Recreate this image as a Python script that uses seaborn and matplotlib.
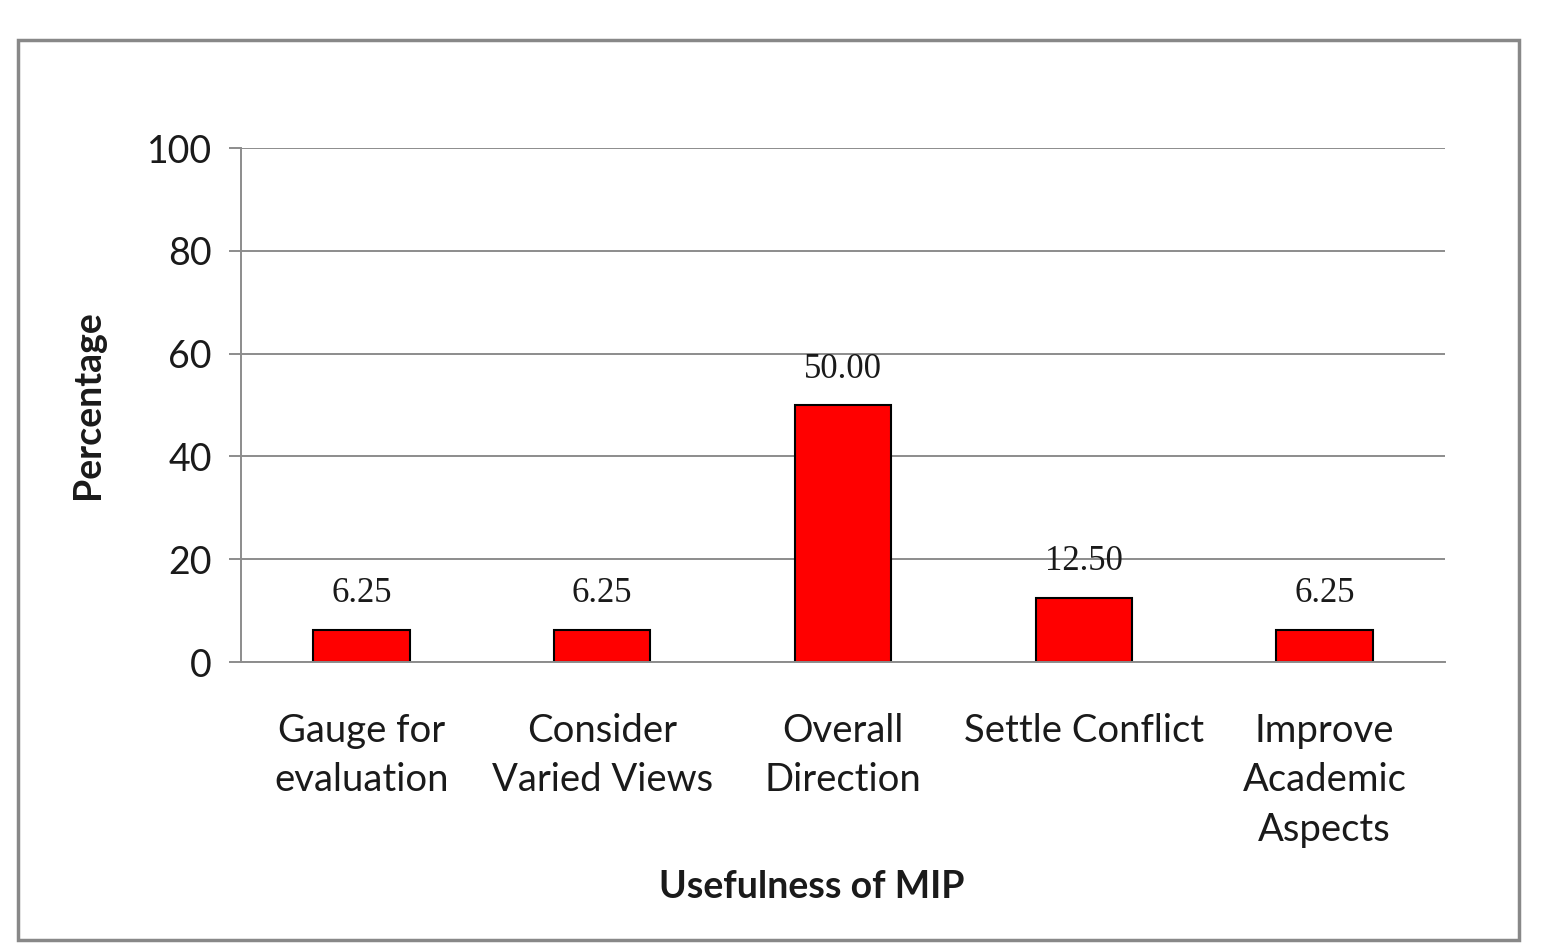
import matplotlib
matplotlib.use("Agg")
import matplotlib.pyplot as plt
import matplotlib.patches as mpatches
import pandas as pd
import seaborn as sns

# data
categories = ["Gauge for\nevaluation", "Consider\nVaried Views", "Overall\nDirection",
              "Settle Conflict", "Improve\nAcademic\nAspects"]
percentages = [6.25, 6.25, 50.00, 12.50, 6.25]
y_ticks = [0, 20, 40, 60, 80, 100]

df = pd.DataFrame({"usefulness": categories, "percentage": percentages})

sns.set_style("white")
plt.rcParams["font.family"] = ["Lato", "DejaVu Sans"]

fig = plt.figure(figsize=(15.43, 9.44), dpi=100)
ax = fig.add_axes([0.1562, 0.2987, 0.7803, 0.5445])

sns.barplot(data=df, x="usefulness", y="percentage", color="#ff0000",
            edgecolor="black", linewidth=1.5, width=0.4, saturation=1, ax=ax)

ax.set_ylim(0, 100)
ax.set_xlim(-0.5, 4.5)
ax.set_yticks(y_ticks)
ax.yaxis.grid(True, color="#8c8c8c", linewidth=1.4)
ax.set_axisbelow(True)

for side in ["top", "right"]:
    ax.spines[side].set_visible(False)
for side in ["left", "bottom"]:
    ax.spines[side].set_color("#8c8c8c")
    ax.spines[side].set_linewidth(1.4)

ax.tick_params(axis="y", which="both", left=True, length=9, width=1.4,
               color="#8c8c8c", labelsize=27, pad=12, labelcolor="#1a1a1a")
ax.tick_params(axis="x", bottom=False, labelsize=27.5, pad=33, labelcolor="#1a1a1a")
for lbl in ax.get_xticklabels():
    lbl.set_linespacing(1.47)
    lbl.set_verticalalignment("top")

ax.bar_label(ax.containers[0], fmt="%.2f", padding=14, fontsize=25,
             family="Liberation Serif", color="#1a1a1a")

ax.set_xlabel("")
ax.set_ylabel("")
fig.text(0.057, 0.571, "Percentage", rotation=90, ha="center", va="center",
         fontsize=27, fontweight="bold", color="#1a1a1a")
fig.text(0.526, 0.06, "Usefulness of MIP", ha="center", va="center",
         fontsize=27, fontweight="bold", color="#1a1a1a")

# outer frame around the chart
fig.patches.append(mpatches.Rectangle((0.0117, 0.0042), 0.9728, 0.9534,
                                      transform=fig.transFigure, fill=False,
                                      edgecolor="#888888", linewidth=2.5))

fig.savefig("out.png", dpi=100)
